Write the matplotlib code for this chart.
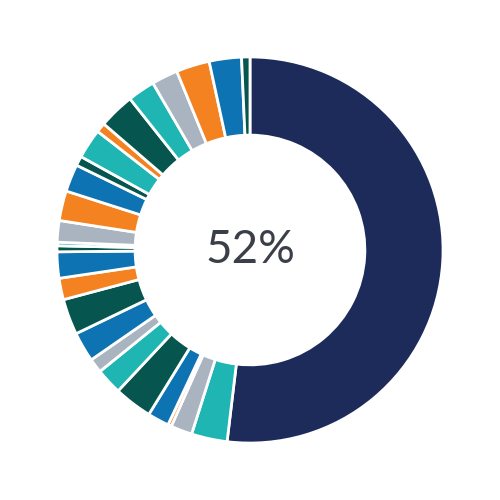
import matplotlib
matplotlib.use("Agg")
import matplotlib.pyplot as plt

NAVY="#1c2b5a"; TEAL="#1fb5b3"; GRAY="#aab3c0"; ORANGE="#f58220"; BLUE="#0d73b3"; DKGREEN="#06564f"
values=[52,3,1.8,0.3,1.8,3.2,2.2,1.2,2.5,3,1.8,2.2,0.5,0.3,1.8,2.5,2.3,0.8,2.5,0.8,3,2.3,2.2,2.8,2.7,0.7]
colors=[NAVY,TEAL,GRAY,ORANGE,BLUE,DKGREEN,TEAL,GRAY,BLUE,DKGREEN,ORANGE,BLUE,DKGREEN,TEAL,GRAY,ORANGE,BLUE,DKGREEN,TEAL,ORANGE,DKGREEN,TEAL,GRAY,ORANGE,BLUE,DKGREEN]
center_label="52%"

fig=plt.figure(figsize=(5,5),dpi=100)
ax=fig.add_axes([0,0,1,1])
ax.pie(values,colors=colors,startangle=90,counterclock=False,radius=1,
       wedgeprops=dict(width=0.405,edgecolor="white",linewidth=2))
ax.text(0,0,center_label,ha="center",va="center",fontsize=33,color="#3a3f48",family="Lato")
ax.set_xlim(-1.295,1.295); ax.set_ylim(-1.295,1.295)
ax.set_aspect("equal"); ax.axis("off")
fig.savefig("out.png")
